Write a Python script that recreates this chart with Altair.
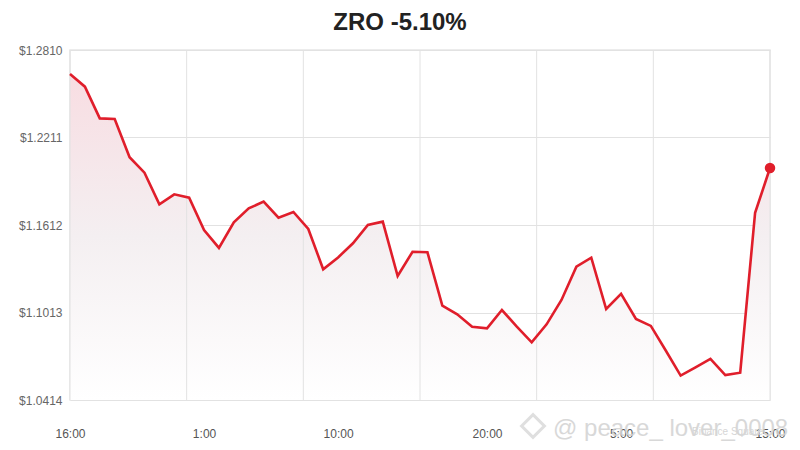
import altair as alt
import pandas as pd

# hourly ZRO price, 16:00 -> 15:00 next day
prices = [
    1.2646, 1.2559, 1.2342, 1.2338, 1.2076, 1.1970, 1.1754, 1.1822, 1.1799, 1.1578,
    1.1455, 1.1631, 1.1726, 1.1772, 1.1662, 1.1701, 1.1585, 1.1309, 1.1390, 1.1487,
    1.1612, 1.1635, 1.1263, 1.1429, 1.1425, 1.1060, 1.1001, 1.0916, 1.0905, 1.1030,
    1.0916, 1.0809, 1.0932, 1.1099, 1.1327, 1.1388, 1.1037, 1.1140, 1.0969, 1.0921,
    1.0753, 1.0581, 1.0638, 1.0695, 1.0585, 1.0601, 1.1696, 1.2002,
]
steps = list(range(len(prices)))

tick_steps = [0, 9, 18, 28, 37, 47]
tick_labels = ["16:00", "1:00", "10:00", "20:00", "5:00", "15:00"]
y_ticks = [1.0414, 1.1013, 1.1612, 1.2211, 1.2810]
v_grid = [0, 7.833, 15.667, 23.5, 31.333, 39.167, 47]

df = pd.DataFrame({"step": steps, "price": prices})
last = df.tail(1)
grid_df = pd.DataFrame({"step": v_grid})

label_expr = ""
for s, l in zip(tick_steps, tick_labels):
    label_expr += f"datum.value == {s} ? '{l}' : "
label_expr += "''"

x_enc = alt.X("step:Q", scale=alt.Scale(domain=[0, 47], nice=False),
              axis=alt.Axis(values=tick_steps, labelExpr=label_expr, grid=False, ticks=False,
                            domain=False, labelPadding=28, labelFontSize=12, labelFlush=False,
                            labelOverlap=False, labelBound=False,
                            labelColor="#555555", labelFont="Liberation Sans", title=None))
y_enc = alt.Y("price:Q", scale=alt.Scale(domain=[1.0414, 1.2810], nice=False, zero=False),
              axis=alt.Axis(values=y_ticks, format="$.4f", grid=True, gridColor="#e2e2e2",
                            ticks=False, domain=False, labelPadding=8, labelFontSize=12,
                            labelColor="#666666", labelFont="Liberation Sans", title=None))

base = alt.Chart(df)

area = base.mark_area(
    color=alt.Gradient(
        gradient="linear",
        stops=[alt.GradientStop(color="#ffffff", offset=0),
               alt.GradientStop(color="#f4eff1", offset=0.5),
               alt.GradientStop(color="#f8dde2", offset=1)],
        x1=1, x2=1, y1=1, y2=0,
    )
).encode(x=x_enc, y=y_enc, y2=alt.datum(1.0414))

vrules = alt.Chart(grid_df).mark_rule(color="#e2e2e2", strokeWidth=1).encode(x="step:Q")

line = base.mark_line(color="#e01e2b", strokeWidth=2.6).encode(x="step:Q", y="price:Q")

dot = alt.Chart(last).mark_circle(color="#e01e2b", size=110, opacity=1).encode(x="step:Q", y="price:Q")

# watermark
logo = alt.Chart(pd.DataFrame({"t": ["logo"]})).mark_point(
    shape="diamond", size=520, color="#d8d8d8", strokeWidth=3, opacity=0.8
).encode(x=alt.value(463), y=alt.value(376))

watermark = alt.Chart(pd.DataFrame({"t": ["@ peace_ lover_0008"]})).mark_text(
    align="left", baseline="alphabetic", fontSize=24, color="#d2d2d2", opacity=0.85,
    font="Liberation Sans"
).encode(x=alt.value(483), y=alt.value(386), text="t:N")

square = alt.Chart(pd.DataFrame({"t": ["Binance Square"]})).mark_text(
    align="left", baseline="alphabetic", fontSize=10, color="#d6d6d6",
    font="Liberation Sans"
).encode(x=alt.value(622), y=alt.value(385), text="t:N")

chart = alt.layer(area, vrules, line, dot, logo, watermark, square).properties(
    width=700,
    height=350,
    title=alt.TitleParams("ZRO -5.10%", fontSize=24, fontWeight="bold", color="#222222",
                          font="Liberation Sans", anchor="middle", frame="group", dx=-20,
                          offset=9),
    autosize=alt.AutoSizeParams(type="none"),
    padding={"left": 62, "top": 42, "right": 22, "bottom": 50},
).configure_view(stroke="#e6e6e6", strokeWidth=1.5)

chart.save("out.html", embed_options={"renderer": "svg", "actions": False})
